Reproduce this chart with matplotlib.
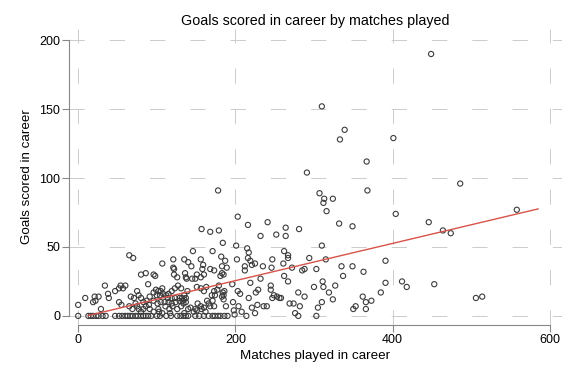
import numpy as np
import matplotlib
matplotlib.use('Agg')
import matplotlib.pyplot as plt

plt.rcParams['font.family'] = ['Liberation Sans', 'DejaVu Sans']
plt.rcParams['lines.scale_dashes'] = False

# matches played / goals scored
matches = [449, 310, 339, 333, 401, 367, 291, 486, 307, 368, 313, 324, 312, 316, 404, 558,
           332, 349, 264, 281, 264, 446, 464, 474, 310, 262, 267, 267, 294, 261, 391, 315,
           272, 288, 285, 303, 335, 349, 363, 262, 337, 267, 311, 312, 300, 327, 391, 412,
           418, 453, 385, 319, 280, 288, 258, 324, 362, 373, 366, 310, 269, 274, 282, 305,
           350, 353, 366, 506, 514, 276, 280, 303,
           178, 65, 70, 107, 121, 135, 203, 216, 241, 157, 168, 179, 232, 252, 184, 201,
           215, 217, 171, 146, 140, 156, 182, 187, 202, 216, 219, 247, 225,
           121, 122, 80, 86, 96, 98, 34, 47, 52, 54, 60, 57, 21, 26, 38, 39, 9, 19, 22, 0,
           29, 52, 55, 75, 77, 89, 99, 102, 105, 107, 67, 71, 80, 83, 87, 91, 96, 73, 75,
           65, 69, 77, 80, 83, 86, 90, 100, 104, 108, 112, 114, 119, 123, 129, 132, 137,
           96, 101, 105, 110, 115, 119, 124, 129, 133, 137, 111, 116, 120, 126, 131, 91,
           96, 102, 103, 119, 123, 115, 122, 126, 136, 137, 127, 131,
           0, 13, 16, 19, 23, 26, 31, 35, 47, 52, 56, 60, 63, 66, 69, 73, 76, 80, 83, 86,
           89, 93, 100, 104, 107, 112, 117, 118, 126, 130, 134, 137,
           144, 159, 158, 168, 173, 183, 189, 183, 185, 181, 212, 221, 235, 246, 212, 151,
           145, 149, 138, 156, 160, 139, 135, 151, 156, 160, 163, 179, 177, 173, 170, 174,
           184, 185, 186, 196, 203, 206, 217, 219, 226, 229, 232, 245, 245, 249, 247, 253,
           256, 134, 135, 140, 143, 152, 156, 160, 157, 162, 164, 166, 168, 171, 173, 183,
           185, 188, 197, 198, 204, 221, 225, 236, 240, 208, 199, 214, 135, 140, 147, 149,
           154, 160, 166, 171, 174, 178, 181, 186, 190, 149, 151, 228]
goals = [190, 152, 135, 128, 129, 112, 104, 96, 89, 91, 85, 85, 82, 76, 74, 77,
         67, 65, 64, 63, 58, 68, 62, 60, 51, 47, 44, 42, 42, 38, 40, 41,
         35, 34, 33, 34, 36, 36, 32, 29, 29, 25, 25, 21, 21, 22, 24, 25,
         21, 23, 17, 17, 17, 14, 13, 12, 14, 11, 10, 10, 9, 9, 7, 6,
         5, 7, 5, 13, 14, 2, 0, 0,
         91, 44, 42, 38, 41, 41, 72, 66, 68, 63, 61, 62, 58, 59, 53, 51,
         49, 46, 47, 47, 39, 41, 43, 40, 41, 42, 40, 41, 38,
         35, 34, 30, 31, 30, 29, 22, 18, 20, 22, 22, 20, 14, 14, 16, 13, 13, 10, 11, 8,
         5, 10, 8, 18, 15, 23, 19, 18, 18, 20, 14, 13, 13, 10, 11, 14, 17, 9, 7,
         7, 5, 5, 3, 5, 7, 8, 15, 15, 16, 15, 13, 13, 13, 13, 13, 13,
         11, 9, 10, 10, 10, 9, 10, 11, 11, 10, 7, 5, 7, 5, 7, 5,
         3, 5, 3, 18, 20, 16, 30, 28, 31, 28, 22, 20,
         0, 0, 0, 0, 0, 0, 0, 0, 0, 0, 0, 0, 0, 0, 0, 0, 0, 0, 0, 0,
         0, 0, 0, 0, 2, 0, 2, 0, 0, 0, 0, 0,
         36, 37, 34, 34, 33, 36, 35, 31, 30, 29, 36, 37, 36, 35, 33, 30,
         27, 27, 27, 28, 30, 18, 15, 21, 20, 18, 21, 22, 19, 18, 15, 15,
         17, 15, 18, 23, 18, 16, 13, 24, 17, 19, 27, 22, 19, 15, 13, 14,
         13, 9, 12, 5, 6, 9, 7, 6, 5, 3, 11, 9, 7, 11, 7, 14,
         12, 7, 10, 4, 7, 6, 2, 7, 7, 3, 1, 0, 2, 0, 3, 0,
         0, 0, 0, 0, 0, 0, 0, 0, 0, 5, 4, 8]

# linear fit line end points
fit_x = [13, 585]
fit_y = [0.3, 77.6]

x_ticks = [0, 200, 400, 600]
y_ticks = [0, 50, 100, 150, 200]

fig = plt.figure(figsize=(5.76, 3.84), dpi=100)
ax = fig.add_axes([0.12, 0.154, 0.855, 0.77])

for xv in x_ticks:
    ax.axvline(xv, color='#cccccc', linewidth=0.7, linestyle=(0, (11, 18)), zorder=0)
for yv in y_ticks:
    ax.axhline(yv, color='#cccccc', linewidth=0.7, linestyle=(0, (11, 18)), zorder=0)

ax.scatter(matches, goals, s=14, facecolors='none', edgecolors='#3c3c3c', linewidths=0.8, zorder=2)
ax.plot(fit_x, fit_y, color='#d8524a', linewidth=1.0, zorder=3)

ax.set_xlim(-11.5, 615)
ax.set_ylim(-6.5, 208)
ax.set_xticks(x_ticks)
ax.set_yticks(y_ticks)
ax.spines['top'].set_visible(False)
ax.spines['right'].set_visible(False)
for side in ['left', 'bottom']:
    ax.spines[side].set_color('#888888')
    ax.spines[side].set_linewidth(0.8)
ax.spines['left'].set_bounds(0, 200)
ax.spines['bottom'].set_bounds(0, 600)
ax.tick_params(axis='both', colors='#888888', length=5, width=0.8, labelsize=9,
               labelcolor='black', pad=1.5)

ax.set_title('Goals scored in career by matches played', fontsize=10.3, pad=3)
ax.set_xlabel('Matches played in career', fontsize=9.6)
ax.set_ylabel('Goals scored in career', fontsize=9.6)
ax.xaxis.set_label_coords(0.5, -0.085)
ax.yaxis.set_label_coords(-0.074, 0.5)

fig.savefig('out.png', dpi=100)
